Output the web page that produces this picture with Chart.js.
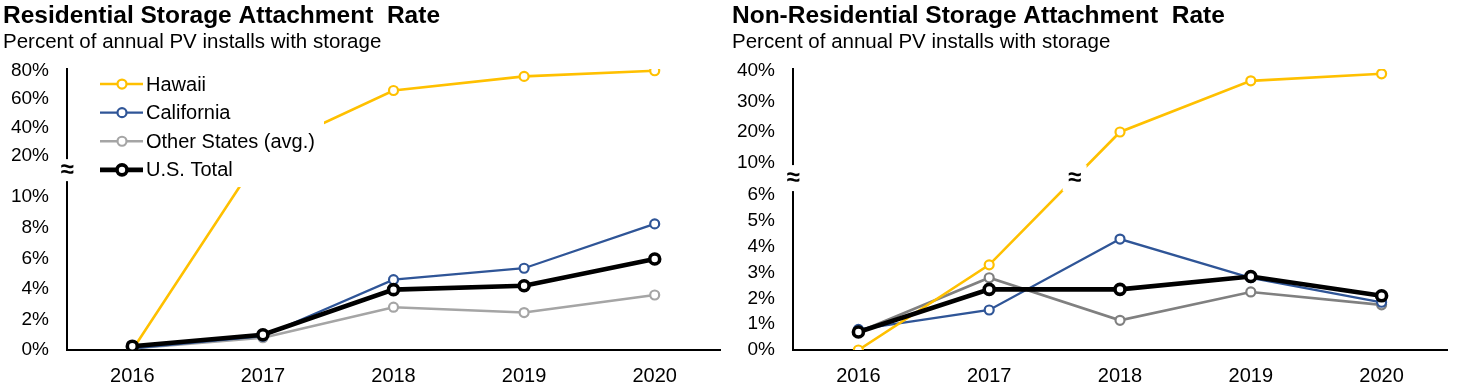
<!DOCTYPE html>
<html>
<head>
<meta charset="utf-8">
<script src="https://cdn.jsdelivr.net/npm/chart.js@4.4.1/dist/chart.umd.min.js"></script>
<style>
  body { margin: 0; background: #fff; }
  #wrap { position: relative; width: 1466px; height: 391px; }
  canvas { position: absolute; top: 0; }
</style>
</head>
<body>
<div id="wrap">
  <canvas id="resChart" width="733" height="391" style="left:0"></canvas>
  <canvas id="nonresChart" width="738" height="391" style="left:728px"></canvas>
</div>
<script>
const years = ["2016", "2017", "2018", "2019", "2020"];
const seriesNames = ["Hawaii", "California", "Other States (avg.)", "U.S. Total"];

// residential, percent of annual PV installs with storage
const resHawaii = [0, 23, 66, 76, 80];
const resCalifornia = [0.1, 0.9, 4.6, 5.35, 8.25];
const resOther = [0.1, 0.8, 2.8, 2.45, 3.6];
const resTotal = [0.25, 1.0, 3.95, 4.2, 5.95];
const resTicks = [0, 2, 4, 6, 8, 10, 20, 40, 60, 80];

// non-residential
const nonresHawaii = [0, 3.3, 20, 36.7, 39];
const nonresCalifornia = [0.8, 1.55, 4.3, 2.8, 1.85];
const nonresOther = [0.7, 2.8, 1.15, 2.25, 1.75];
const nonresTotal = [0.7, 2.35, 2.35, 2.85, 2.1];
const nonresTicks = [0, 1, 2, 3, 4, 5, 6, 10, 20, 30, 40];

const FONT = "'Liberation Sans', Arial, sans-serif";
Chart.defaults.font.family = FONT;
Chart.defaults.color = "#000";

// linear scale with a broken (piecewise) axis
class BrokenScale extends Chart.LinearScale {
  static id = "broken";
  buildTicks() {
    return this.options.tickValues.map(value => ({ value }));
  }
  getPixelForValue(value) {
    const { values, spots } = this.options.fold;
    let i = 1;
    while (i < values.length - 1 && value > values[i]) i++;
    const t = (value - values[i - 1]) / (values[i] - values[i - 1]);
    return this.getPixelForDecimal(spots[i - 1] + t * (spots[i] - spots[i - 1]));
  }
}
Chart.register(BrokenScale);

// the "≈" marks on the axis and where a line crosses the break
const breakMarks = {
  id: "breakMarks",
  afterDatasetsDraw(chart, args, opts) {
    const { ctx, chartArea } = chart;
    const y = chart.scales.y.getPixelForValue(opts.value);
    const mark = (x, w) => {
      ctx.fillStyle = "#fff";
      ctx.fillRect(x - w / 2, y - opts.gap / 2, w, opts.gap);
      ctx.fillStyle = "#000";
      ctx.fillText("\u2248", x, y);
    };
    ctx.save();
    ctx.font = "bold 24px " + FONT;
    ctx.textAlign = "center";
    ctx.textBaseline = "middle";
    mark(chartArea.left, 8);
    opts.lines.forEach(index => {
      const pts = chart.getDatasetMeta(index).data;
      for (let i = 1; i < pts.length; i++) {
        const p = pts[i - 1], q = pts[i];
        if (p.y > y && q.y <= y) {
          const x = p.x + (y - p.y) / (q.y - p.y) * (q.x - p.x);
          mark(x, 24);
        }
      }
    });
    ctx.restore();
  }
};

// legend drawn over the lines, on a white box
const legendBox = {
  id: "legendBox",
  afterDatasetsDraw(chart, args, opts) {
    if (!opts.show) return;
    const { ctx, chartArea } = chart;
    const x = chartArea.left + opts.dx;
    ctx.save();
    ctx.fillStyle = "#fff";
    ctx.fillRect(x - 6, chartArea.top + 1, opts.width, opts.height);
    ctx.font = "20px " + FONT;
    ctx.textBaseline = "middle";
    chart.data.datasets.forEach((ds, i) => {
      const y = chartArea.top + opts.dy + i * opts.row;
      ctx.strokeStyle = ds.borderColor;
      ctx.lineWidth = ds.borderWidth;
      ctx.beginPath();
      ctx.moveTo(x, y);
      ctx.lineTo(x + 43, y);
      ctx.stroke();
      ctx.beginPath();
      ctx.arc(x + 22, y, ds.pointRadius, 0, Math.PI * 2);
      ctx.fillStyle = "#fff";
      ctx.fill();
      ctx.lineWidth = ds.pointBorderWidth;
      ctx.stroke();
      ctx.fillStyle = "#000";
      ctx.fillText(ds.label, x + 46, y + 1);
    });
    ctx.restore();
  }
};

function makeDataset(label, data, color, width, radius, border, order) {
  return {
    label: label,
    data: data,
    borderColor: color,
    borderWidth: width,
    pointRadius: radius,
    pointBorderWidth: border,
    pointBackgroundColor: "#fff",
    pointBorderColor: color,
    order: order
  };
}

function drawPanel(id, p) {
  new Chart(document.getElementById(id), {
    type: "line",
    data: {
      labels: years,
      datasets: [
        makeDataset(seriesNames[0], p.series[0], "#FFC000", 2.6, 4.5, 2.2, 1),
        makeDataset(seriesNames[1], p.series[1], "#2F5597", 2.3, 4.5, 2.2, 2),
        makeDataset(seriesNames[2], p.series[2], p.gray, 2.6, 4.5, 2.2, 3),
        makeDataset(seriesNames[3], p.series[3], "#000000", 4.6, 5, 3.6, 0)
      ]
    },
    options: {
      responsive: false,
      animation: false,
      events: [],
      layout: { padding: { left: p.padLeft, right: p.padRight, top: 0, bottom: 3 } },
      plugins: {
        legend: { display: false },
        tooltip: { enabled: false },
        title: {
          display: true, text: p.title, align: "start",
          font: { size: 24.5, weight: "bold", lineHeight: 1.2 },
          padding: { top: 2, bottom: 0 }
        },
        subtitle: {
          display: true, text: "Percent of annual PV installs with storage", align: "start",
          font: { size: 20.5, lineHeight: 1.08 }, color: "#000",
          padding: { top: 0, bottom: 15.5 }
        },
        breakMarks: { value: p.breakValue, gap: p.gap, lines: [0] },
        legendBox: { show: p.legend, dx: 33, dy: 15, row: 28.6, width: 230, height: 117 }
      },
      scales: {
        x: {
          offset: true,
          afterFit: scale => { scale.height = 38; },
          grid: { display: false, drawTicks: false },
          border: { color: "#000", width: 2 },
          ticks: { font: { size: 20 }, padding: 14 }
        },
        y: {
          type: "broken",
          min: 0,
          max: p.ticks[p.ticks.length - 1],
          tickValues: p.ticks,
          fold: p.fold,
          afterFit: scale => { scale.width = p.axisWidth; },
          grid: { display: false, drawTicks: false },
          border: { color: "#000", width: 2 },
          ticks: { font: { size: 19 }, padding: 18, autoSkip: false, callback: v => v + "%" }
        }
      }
    },
    plugins: [breakMarks, legendBox]
  });
}

drawPanel("resChart", {
  title: "Residential Storage Attachment  Rate",
  series: [resHawaii, resCalifornia, resOther, resTotal],
  ticks: resTicks,
  fold: { values: [0, 10, 20, 80], spots: [0, 0.544, 0.692, 0.994] },
  breakValue: 16.5, gap: 22,
  gray: "#A5A5A5",
  legend: true,
  padLeft: 3, padRight: 13, axisWidth: 64
});

drawPanel("nonresChart", {
  title: "Non-Residential Storage Attachment  Rate",
  series: [nonresHawaii, nonresCalifornia, nonresOther, nonresTotal],
  ticks: nonresTicks,
  fold: { values: [0, 6, 10, 40], spots: [0, 0.551, 0.667, 0.994] },
  breakValue: 8.1, gap: 26,
  gray: "#808080",
  legend: false,
  padLeft: 4, padRight: 19, axisWidth: 61
});
</script>
</body>
</html>
